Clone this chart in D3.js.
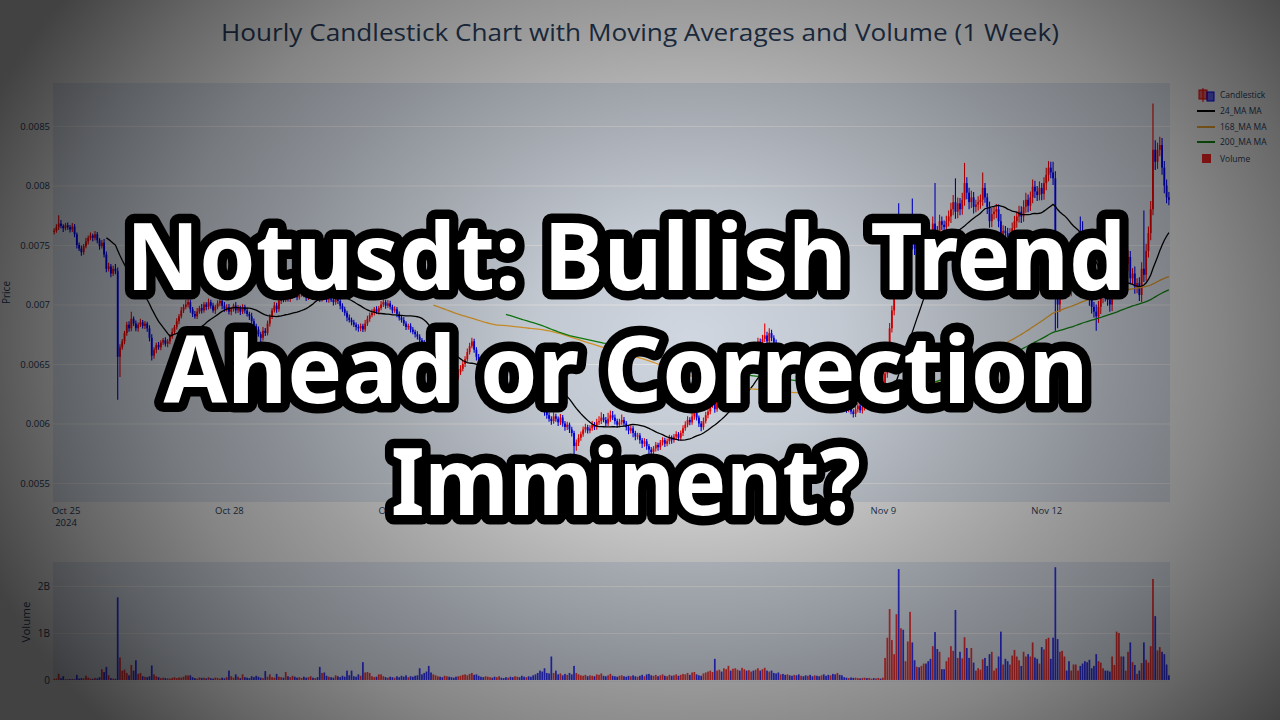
<!DOCTYPE html>
<html><head><meta charset="utf-8">
<script src="https://cdn.jsdelivr.net/npm/d3@7"></script>
<style>body{margin:0;background:#fff;}svg{display:block;}</style>
</head><body>
<svg id="c" width="1280" height="720"></svg>
<script>
// ---------------- DATA ----------------
const startTime = "2024-10-24T19:00:00";      // first hourly candle (UTC)
const xRangeDates = ["2024-10-24T18:30:00", "2024-11-14T06:30:00"];
const PRICE_UNIT = 1e-6;                      // prices below are in 1e-6 USDT
const firstOpen = 7610;
const closeMicro = [
7620,7650,7680,7660,7640,7665,7650,7630,7655,7590,7500,7470, 7440,7490,7530,7560,7580,7560,7590,7540,7490,7520,7420,7300,
7320,7260,7300,7280,6560,6640,6690,6760,6830,6800,6880,6840, 6800,6830,6850,6820,6840,6800,6720,6570,6620,6660,6640,6680,
6700,6670,6690,6730,6770,6810,6860,6900,6950,6980,7000,7020, 6960,6920,6900,6940,6970,6950,7000,6980,7020,6990,6950,6980,
7010,7030,6990,6960,6980,6940,6960,6990,6950,6970,6940,6980, 6950,6920,6900,6860,6820,6790,6750,6720,6780,6760,6840,6900,
6950,6990,6960,7030,7060,7040,7080,7050,7070,7100,7080,7060, 7090,7110,7080,7060,7090,7120,7100,7130,7090,7050,7080,7060,
7040,7070,7040,7020,7050,7030,6990,6960,6930,6890,6870,6850, 6830,6810,6800,6820,6790,6840,6880,6910,6930,6960,6940,6970,
7000,7020,6990,7010,6980,6950,6960,6920,6890,6870,6840,6810, 6820,6790,6770,6750,6730,6700,6680,6600,6520,6400,6360,6420,
6460,6500,6470,6440,6480,6510,6480,6450,6420,6390,6430,6460, 6500,6540,6600,6650,6690,6620,6560,6500,6460,6430,6470,6510,
6540,6510,6490,6520,6550,6520,6490,6470,6500,6480,6450,6470, 6500,6480,6440,6420,6450,6430,6400,6380,6350,6320,6260,6180,
6100,6070,6040,6020,6060,6040,6010,6050,6000,5970,5990,5950, 5920,5810,5840,5880,5910,5950,5970,5940,5960,5990,5970,6010,
6020,6050,6030,6000,6040,6070,6050,6020,5990,6010,6030,6000, 5970,5940,5960,5920,5890,5900,5860,5830,5850,5810,5780,5760,
5790,5820,5800,5840,5860,5830,5850,5880,5860,5890,5910,5880, 5920,5960,5990,6030,6010,6060,6090,6050,6000,5970,6020,6070,
6100,6160,6180,6120,6200,6250,6230,6290,6330,6370,6350,6400, 6440,6480,6460,6510,6550,6530,6580,6620,6600,6650,6690,6660,
6710,6740,6690,6760,6720,6680,6650,6620,6640,6600,6570,6590, 6550,6520,6540,6500,6470,6490,6450,6420,6440,6400,6380,6410,
6370,6340,6360,6320,6300,6280,6300,6260,6230,6250,6210,6180, 6150,6120,6160,6100,6080,6120,6150,6110,6140,6180,6160,6200,
6220,6190,6230,6260,6240,6280,6420,6600,6800,6950,7100,7600, 7480,7560,7450,7520,7580,7640,7520,7470,7500,7460,7510,7560,
7530,7490,7470,7680,7620,7580,7700,7670,7650,7700,7740,7800, 7860,7780,7850,7800,7880,8020,7940,7860,7900,7820,7840,7860,
7880,7980,7900,7820,7700,7760,7780,7800,7700,7580,7620,7600, 7570,7600,7640,7700,7740,7780,7740,7820,7880,7830,7900,7990,
7950,7920,7980,7930,8020,8090,8150,8110,8060,7150,7000,7100, 7180,7260,7200,7120,7180,7260,7340,7420,7380,7300,7220,7150,
7050,6980,6940,6900,6980,7060,7120,7080,7040,7000,7100,7160, 7280,7380,7420,7300,7340,7400,7220,7260,7150,7180,7080,7300,
7250,7450,7600,7800,8300,8200,8300,8340,8150,8000,7900,7880
];
const upperWick = [
20,25,70,30,15,20,25,18,30,22,15,20, 25,18,30,20,25,15,28,20,18,22,30,25,
30,20,25,40,30,25,20,18,25,30,60,20, 25,18,30,20,22,15,25,30,20,18,25,20,
18,25,20,22,30,18,25,20,28,22,40,25, 20,18,25,30,20,35,22,18,30,20,25,18,
25,20,18,30,22,25,20,18,30,25,20,22, 18,25,20,30,22,18,25,20,30,22,25,18,
20,30,25,35,22,18,30,25,20,40,25,18, 30,22,25,20,35,28,20,25,30,22,18,25,
30,22,25,20,28,18,25,20,22,18,25,20, 22,18,25,20,18,30,25,22,30,20,25,18,
30,25,20,28,22,18,25,20,22,18,25,20, 18,22,20,18,25,20,18,22,20,25,30,22,
25,30,20,22,28,20,25,18,22,20,25,30, 28,25,30,28,30,22,20,25,18,22,25,20,
25,20,22,28,25,20,18,22,25,20,18,25, 22,20,18,25,22,20,18,22,20,25,20,18,
30,22,25,20,35,22,18,30,22,20,25,18, 22,20,25,30,22,25,28,20,25,30,22,30,
40,45,30,25,50,40,35,25,20,30,45,25, 20,18,25,20,18,22,20,18,25,20,18,22,
20,25,18,22,25,20,22,25,20,22,25,18, 22,25,28,30,22,30,28,20,18,22,30,28,
30,28,25,20,30,28,22,30,25,30,22,28, 30,28,22,30,28,22,30,32,25,35,30,25,
35,100,30,40,28,22,25,20,25,18,20,25, 22,18,25,20,18,25,20,18,25,20,18,25,
20,18,25,20,18,22,25,20,18,25,20,18, 22,20,25,18,20,25,22,18,25,30,22,28,
25,20,28,30,22,30,35,40,45,40,50,50, 250,60,40,50,45,60,250,40,35,45,40,50,
40,45,50,60,340,40,55,40,35,45,50,55, 60,200,50,45,60,170,50,40,55,45,40,50,
45,130,40,35,45,50,40,45,40,60,45,40, 45,40,50,45,40,50,45,55,60,45,50,60,
50,45,55,40,50,60,55,50,90,60,80,60, 70,60,55,60,50,60,70,55,320,320,60,50,
50,45,40,60,50,55,45,40,50,55,45,60, 55,60,50,45,60,55,50,45,60,40,50,55,
490,60,55,70,390,80,60,70,60,55,50,45
];
const lowerWick = [
22,18,25,20,30,18,22,25,20,25,30,20, 30,22,18,25,20,28,22,25,30,20,25,30,
22,30,20,25,360,170,20,25,22,30,25,20, 25,30,20,22,25,28,30,40,25,30,20,25,
20,22,30,25,18,22,20,25,18,22,20,25, 30,25,20,22,18,25,20,28,22,25,20,30,
20,25,30,22,18,25,30,20,25,22,28,20, 25,20,30,22,25,30,20,35,22,25,20,25,
22,18,30,20,25,22,18,25,28,20,22,25, 18,25,20,30,22,18,25,22,20,28,25,20,
22,25,20,28,22,25,30,22,25,30,22,25, 20,28,30,25,22,18,20,25,18,22,20,25,
18,22,25,20,22,25,20,28,25,22,20,25, 22,25,20,28,25,22,30,25,30,45,40,25,
30,22,25,28,20,22,25,30,28,35,25,22, 20,25,22,20,18,25,30,28,30,25,22,20,
22,25,20,22,18,25,28,22,20,25,22,28, 20,22,25,28,22,25,30,22,28,25,30,40,
35,30,25,30,22,25,30,22,28,30,25,30, 30,110,40,30,25,22,28,25,22,20,25,22,
22,25,20,28,22,25,20,28,25,22,20,25, 28,30,25,35,30,25,30,35,25,30,40,35,
30,25,30,22,25,28,22,25,30,22,20,25, 22,25,20,22,25,20,28,25,30,35,22,20,
25,22,28,30,22,25,28,22,25,20,28,22, 25,22,28,25,22,28,25,22,28,25,22,28,
25,28,30,25,28,30,25,28,30,25,28,22, 25,28,30,25,28,22,25,30,28,25,22,28,
25,28,22,30,25,28,22,25,30,28,25,22, 28,30,25,22,30,25,28,22,25,30,28,25,
22,25,28,20,25,22,30,35,40,35,40,50, 45,60,50,45,55,50,60,55,50,45,50,55,
50,45,55,60,50,55,50,45,55,50,45,55, 50,60,55,50,45,50,55,60,50,55,45,50,
55,50,45,60,55,50,45,55,50,60,55,50, 45,55,50,45,55,50,55,45,50,55,45,50,
55,50,45,55,50,60,55,50,55,370,200,60, 55,50,60,55,50,55,60,50,55,60,50,55,
60,55,50,120,55,60,50,55,50,60,55,50, 60,55,60,50,55,60,50,55,60,55,50,60,
60,50,55,60,50,70,60,55,60,65,50,45
];
const volumeM = [   // hourly volume, millions
25,30,130,40,80,20,15,20,25,18,110,30, 40,35,90,50,30,25,45,35,60,230,170,280,
100,40,30,25,1760,480,200,220,150,100,320,200, 420,130,150,80,70,60,80,310,120,80,60,40,
50,40,35,30,45,60,40,55,50,70,100,95, 100,60,40,30,55,45,50,35,60,40,30,50,
45,30,50,35,60,200,80,50,120,70,40,120, 60,50,40,80,60,90,70,50,40,190,70,120,
60,50,130,70,60,50,170,80,60,90,70,50, 60,45,70,50,60,80,50,40,60,280,150,160,
90,70,60,50,100,80,60,90,70,200,100,200, 80,70,120,90,380,160,170,150,80,60,70,120,
120,80,60,50,70,60,50,80,60,90,70,100, 60,80,70,90,100,250,120,150,180,300,160,120,
100,80,70,60,90,80,70,60,50,70,80,90, 110,120,100,130,150,110,120,90,70,60,80,70,
60,50,70,60,80,50,40,60,50,70,60,80, 70,60,90,70,60,80,70,100,120,150,200,180,
250,150,140,500,150,200,120,140,100,130,110,150, 120,300,150,120,100,90,110,80,100,90,80,120,
110,140,90,80,100,130,90,80,70,90,100,80, 70,90,80,100,80,70,90,110,80,120,130,100,
90,110,80,100,120,90,80,110,90,100,120,90, 110,130,120,150,110,160,170,120,100,90,140,160,
180,200,170,450,200,220,180,250,230,300,200,240, 250,220,200,260,230,200,210,180,200,220,250,200,
230,260,200,180,200,150,140,160,120,130,110,120, 100,90,110,100,120,90,80,100,90,110,80,100,
90,80,100,120,90,110,100,130,120,150,110,100, 60,50,40,55,45,50,40,35,45,50,40,45,
30,40,35,45,30,50,470,900,1510,850,550,1400, 2360,1100,1070,400,820,1450,800,420,280,270,300,350,
350,400,450,720,1020,660,600,230,230,400,480,720, 620,1490,470,600,460,910,680,470,680,370,200,250,
220,440,470,300,550,600,200,250,500,1030,330,450, 400,330,520,640,500,420,300,600,500,550,500,800,
480,450,350,700,650,870,900,450,900,2400,870,600, 620,500,200,400,200,330,330,200,300,350,400,380,
430,250,300,550,400,370,250,200,200,180,500,320, 1030,1000,500,500,200,600,800,380,320,130,200,360,
800,430,370,720,2150,1360,630,700,600,550,330,100
];
const maWindows = [24, 168, 200];
const maNames = ["24_MA MA", "168_MA MA", "200_MA MA"];
const maColors = ["#000000", "#f0a830", "#108a10"];
const priceTicks = [0.0055, 0.006, 0.0065, 0.007, 0.0075, 0.008, 0.0085];
const priceDomain = [0.0053403, 0.0088613];
const volumeTicks = [0, 1e9, 2e9];
const volumeDomain = [-0.0426e9, 2.511e9];
const dateTicks = ["2024-10-25","2024-10-28","2024-10-31","2024-11-03","2024-11-06","2024-11-09","2024-11-12"];
const titleText = "Hourly Candlestick Chart with Moving Averages and Volume (1 Week)";
const legendLabels = ["Candlestick", ...maNames, "Volume"];
const overlayLines = ["Notusdt: Bullish Trend", "Ahead or Correction", "Imminent?"];

// ---------------- BUILD ----------------
const utc = s => new Date(s + (s.length > 10 ? "Z" : "T00:00:00Z"));
const t0 = utc(startTime);
const n = Math.min(closeMicro.length, upperWick.length, lowerWick.length, volumeM.length);
const candles = d3.range(n).map(i => {
  const close = closeMicro[i] * PRICE_UNIT;
  const open = (i === 0 ? firstOpen : closeMicro[i - 1]) * PRICE_UNIT;
  return {
    t: new Date(t0.getTime() + i * 3600e3),
    open, close,
    high: Math.max(open, close) + upperWick[i] * PRICE_UNIT,
    low: Math.min(open, close) - lowerWick[i] * PRICE_UNIT,
    vol: volumeM[i] * 1e6,
    up: close >= open
  };
});
const maSeries = maWindows.map(w => candles.map((c, i) =>
  i >= w - 1 ? { t: c.t, v: d3.mean(candles.slice(i - w + 1, i + 1), d => d.close) } : null
).filter(Boolean));

const P = { l: 53, r: 1170, t: 83, b: 502 };
const V = { t: 562, b: 682 };
const UP = "#ff0000", DOWN = "#0000ff";
const FONT = "'Open Sans', 'Liberation Sans', sans-serif";
const TXT = "#2a3f5f";

const svg = d3.select("#c");
const defs = svg.append("defs");
defs.append("clipPath").attr("id", "clipP").append("rect")
  .attr("x", P.l).attr("y", P.t).attr("width", P.r - P.l).attr("height", P.b - P.t);
defs.append("clipPath").attr("id", "clipV").append("rect")
  .attr("x", P.l).attr("y", V.t).attr("width", P.r - P.l).attr("height", V.b - V.t);

svg.append("rect").attr("width", 1280).attr("height", 720).attr("fill", "#fff");

const x = d3.scaleUtc().domain(xRangeDates.map(utc)).range([P.l, P.r]);
const y = d3.scaleLinear().domain(priceDomain).range([P.b, P.t]);
const yv = d3.scaleLinear().domain(volumeDomain).range([V.b, V.t]);

// plot backgrounds
svg.append("rect").attr("x", P.l).attr("y", P.t).attr("width", P.r - P.l).attr("height", P.b - P.t).attr("fill", "#E5ECF6");
svg.append("rect").attr("x", P.l).attr("y", V.t).attr("width", P.r - P.l).attr("height", V.b - V.t).attr("fill", "#E5ECF6");

// gridlines
svg.append("g").attr("transform", `translate(${P.l},0)`)
  .call(d3.axisLeft(y).tickValues(priceTicks).tickSize(-(P.r - P.l)).tickFormat(""))
  .call(g => g.select(".domain").remove())
  .call(g => g.selectAll("line").attr("stroke", "#fff").attr("stroke-width", 1));
svg.append("g").attr("transform", `translate(${P.l},0)`)
  .call(d3.axisLeft(yv).tickValues(volumeTicks).tickSize(-(P.r - P.l)).tickFormat(""))
  .call(g => g.select(".domain").remove())
  .call(g => g.selectAll("line").attr("stroke", "#fff").attr("stroke-width", (d) => d === 0 ? 2 : 1));

// price tick labels
svg.append("g").attr("transform", `translate(${P.l - 3},0)`)
  .call(d3.axisLeft(y).tickValues(priceTicks).tickSize(0).tickPadding(0)
    .tickFormat(d => String(+d.toFixed(4))))
  .call(g => g.select(".domain").remove())
  .call(g => g.selectAll("text").attr("fill", TXT).attr("font-size", 9.5).attr("font-family", FONT));
// volume tick labels
svg.append("g").attr("transform", `translate(${P.l - 3},0)`)
  .call(d3.axisLeft(yv).tickValues(volumeTicks).tickSize(0).tickPadding(0)
    .tickFormat(d => d === 0 ? "0" : (d / 1e9) + "B"))
  .call(g => g.select(".domain").remove())
  .call(g => g.selectAll("text").attr("fill", TXT).attr("font-size", 10).attr("font-family", FONT));
// date tick labels
const xAxisG = svg.append("g").attr("transform", `translate(0,${P.b + 3})`)
  .call(d3.axisBottom(x).tickValues(dateTicks.map(utc)).tickSize(0).tickPadding(2)
    .tickFormat(d3.utcFormat("%b %-d")))
  .call(g => g.select(".domain").remove())
  .call(g => g.selectAll("text").attr("fill", TXT).attr("font-size", 9.5).attr("font-family", FONT));
xAxisG.select(".tick text").append("tspan").attr("x", 0).attr("dy", "1.3em").text(d3.utcFormat("%Y")(utc(dateTicks[0])));

// axis titles
svg.append("text").attr("transform", `translate(10,${(P.t + P.b) / 2}) rotate(-90)`)
  .attr("text-anchor", "middle").attr("font-size", 10).attr("font-family", FONT).attr("fill", TXT).text("Price");
svg.append("text").attr("transform", `translate(30,${(V.t + V.b) / 2}) rotate(-90)`)
  .attr("text-anchor", "middle").attr("font-size", 11.5).attr("font-family", FONT).attr("fill", TXT).text("Volume");

// candles
const step = x(new Date(t0.getTime() + 3600e3)) - x(t0);
const cg = svg.append("g").attr("clip-path", "url(#clipP)");
cg.selectAll("line.w").data(candles).join("line")
  .attr("x1", d => x(d.t)).attr("x2", d => x(d.t))
  .attr("y1", d => y(d.high)).attr("y2", d => y(d.low))
  .attr("stroke", d => d.up ? UP : DOWN).attr("stroke-width", 1.1);
cg.selectAll("rect.b").data(candles).join("rect")
  .attr("x", d => x(d.t) - step * 0.4).attr("width", step * 0.8)
  .attr("y", d => y(Math.max(d.open, d.close)))
  .attr("height", d => Math.max(1, Math.abs(y(d.open) - y(d.close))))
  .attr("fill", d => d.up ? UP : DOWN);

// moving averages
const line = d3.line().x(d => x(d.t)).y(d => y(d.v)).curve(d3.curveLinear);
maSeries.forEach((s, k) => {
  cg.append("path").datum(s).attr("d", line).attr("fill", "none")
    .attr("stroke", maColors[k]).attr("stroke-width", 1.3);
});

// volume bars
svg.append("g").attr("clip-path", "url(#clipV)")
  .selectAll("rect").data(candles).join("rect")
  .attr("x", d => x(d.t) - step * 0.38).attr("width", step * 0.76)
  .attr("y", d => yv(d.vol)).attr("height", d => yv(0) - yv(d.vol))
  .attr("fill", d => d.up ? UP : DOWN).attr("fill-opacity", 0.78);

// title
svg.append("text").attr("x", 640).attr("y", 41).attr("text-anchor", "middle")
  .attr("font-size", 23).attr("font-family", FONT).attr("fill", TXT)
  .attr("textLength", 838).attr("lengthAdjust", "spacingAndGlyphs").text(titleText);

// legend
const lg = svg.append("g").attr("font-family", FONT).attr("font-size", 8.5).attr("fill", TXT);
const ly = [95, 111, 127, 142, 159];
legendLabels.forEach((lab, k) => {
  lg.append("text").attr("x", 1220).attr("y", ly[k] + 3).text(lab);
});
lg.append("line").attr("x1", 1203).attr("x2", 1203).attr("y1", 88).attr("y2", 102).attr("stroke", UP);
lg.append("rect").attr("x", 1199).attr("y", 90).attr("width", 8).attr("height", 9).attr("fill", UP).attr("fill-opacity", 0.6).attr("stroke", UP);
lg.append("rect").attr("x", 1207).attr("y", 92).attr("width", 7).attr("height", 9).attr("fill", DOWN).attr("fill-opacity", 0.6).attr("stroke", DOWN);
maColors.forEach((c, k) => {
  lg.append("line").attr("x1", 1197).attr("x2", 1215).attr("y1", ly[k + 1]).attr("y2", ly[k + 1])
    .attr("stroke", c).attr("stroke-width", 2);
});
lg.append("rect").attr("x", 1202).attr("y", 154).attr("width", 9).attr("height", 9).attr("fill", UP).attr("fill-opacity", 0.85);

// vignette (elliptical)
const rg = defs.append("radialGradient").attr("id", "vig").attr("gradientUnits", "userSpaceOnUse")
  .attr("cx", 0).attr("cy", 0).attr("r", 1)
  .attr("gradientTransform", "translate(690,340) scale(760,600)");
[[0, 0.09], [0.2, 0.15], [0.4, 0.29], [0.55, 0.39], [0.7, 0.48], [0.85, 0.6], [1, 0.74]].forEach(([o, a]) => {
  rg.append("stop").attr("offset", o).attr("stop-color", "#000").attr("stop-opacity", a);
});
svg.append("rect").attr("width", 1280).attr("height", 720).attr("fill", "url(#vig)");

// headline overlay
const ov = svg.append("g").attr("font-family", "'Noto Sans', 'DejaVu Sans', sans-serif")
  .attr("font-weight", 700).attr("font-size", 93).attr("text-anchor", "middle");
const ovY = [290, 403, 515];
const ovW = [1000, 925, 470];
overlayLines.forEach((t, k) => {
  ov.append("text").attr("x", 626).attr("y", ovY[k])
    .attr("textLength", ovW[k]).attr("lengthAdjust", "spacingAndGlyphs")
    .attr("fill", "#fff").attr("stroke", "#000").attr("stroke-width", 19)
    .attr("stroke-linejoin", "round").attr("paint-order", "stroke").text(t);
});
</script>
</body></html>
